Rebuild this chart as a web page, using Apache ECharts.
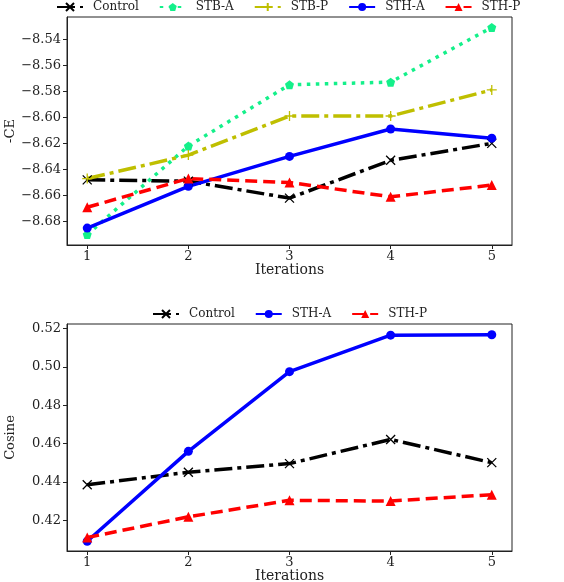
<!DOCTYPE html>
<html>
<head>
<meta charset="utf-8">
<script src="https://cdn.jsdelivr.net/npm/echarts@6/dist/echarts.min.js"></script>
<style>
  html, body { margin: 0; padding: 0; background: #fff; }
  #main { width: 564px; height: 582px; }
</style>
</head>
<body>
<div id="main"></div>
<script>
// iterations on the x axis
const iterations = [1, 2, 3, 4, 5];

// top panel: -CE
const ceControl = [-8.648, -8.649, -8.662, -8.633, -8.620];
const ceStbA    = [-8.690, -8.622, -8.575, -8.573, -8.531];
const ceStbP    = [-8.647, -8.629, -8.599, -8.599, -8.579];
const ceSthA    = [-8.685, -8.653, -8.630, -8.609, -8.616];
const ceSthP    = [-8.669, -8.647, -8.650, -8.661, -8.652];
const ceTicks   = [-8.68, -8.66, -8.64, -8.62, -8.60, -8.58, -8.56, -8.54];

// bottom panel: Cosine
const cosControl = [0.4386, 0.4451, 0.4496, 0.4622, 0.4501];
const cosSthA    = [0.4092, 0.4560, 0.4975, 0.5165, 0.5167];
const cosSthP    = [0.4111, 0.4219, 0.4305, 0.4301, 0.4334];
const cosTicks   = [0.42, 0.44, 0.46, 0.48, 0.50, 0.52];

const chart = echarts.init(document.getElementById('main'));
const FONT = '"DejaVu Serif", serif';

const SYM_X = 'path://M0,0L10,10M10,0L0,10';
const SYM_PLUS = 'path://M5,0L5,10M0,5L10,5';
const SYM_PENT = 'path://M5,0L9.76,3.45L7.94,9.05L2.06,9.05L0.24,3.45Z';

const styles = {
  'Control': { color: '#000000', dash: [18, 5, 4, 5], symbol: SYM_X, size: 9, stroke: 1.3 },
  'STB-A':   { color: '#14f08a', dash: [3.5, 5.5], symbol: SYM_PENT, size: 9, stroke: 0 },
  'STB-P':   { color: '#bfbf00', dash: [18, 5, 4, 5], symbol: SYM_PLUS, size: 10, stroke: 1.3 },
  'STH-A':   { color: '#0000ff', dash: 'solid', symbol: 'circle', size: 9, stroke: 0 },
  'STH-P':   { color: '#ff0000', dash: [12, 6], symbol: 'triangle', size: 10, stroke: 0 }
};

function pairs(vals) {
  return iterations.map((x, i) => [x, vals[i]]);
}

function makeSeries(name, vals, idx) {
  const s = styles[name];
  return {
    name: name,
    type: 'line',
    xAxisIndex: idx,
    yAxisIndex: idx,
    data: pairs(vals),
    symbol: s.symbol,
    symbolSize: s.size,
    showAllSymbol: true,
    lineStyle: { color: s.color, width: 3.5, type: s.dash },
    itemStyle: { color: s.color, borderColor: s.color, borderWidth: s.stroke },
    emphasis: { disabled: true },
    animation: false
  };
}

function xAxisCfg(gridIndex) {
  return {
    type: 'value',
    gridIndex: gridIndex,
    min: 0.8,
    max: 5.2,
    name: 'Iterations',
    nameLocation: 'middle',
    nameGap: 18,
    nameMoveOverlap: false,
    nameTextStyle: { fontFamily: FONT, fontSize: 14, color: '#222' },
    axisLine: { show: true, onZero: false, lineStyle: { color: '#222', width: 1 } },
    axisTick: { show: true, length: 4, lineStyle: { color: '#222' }, customValues: iterations },
    axisLabel: { fontFamily: FONT, fontSize: 13, color: '#222', margin: 5, customValues: iterations },
    splitLine: { show: false }
  };
}

function yAxisCfg(gridIndex, name, min, max, ticks) {
  return {
    type: 'value',
    gridIndex: gridIndex,
    min: min,
    max: max,
    name: name,
    nameLocation: 'middle',
    nameGap: 50,
    nameRotate: 90,
    nameMoveOverlap: false,
    nameTextStyle: { fontFamily: FONT, fontSize: 13, color: '#222' },
    axisLine: { show: true, lineStyle: { color: '#222', width: 1 } },
    axisTick: { show: true, length: 4, lineStyle: { color: '#222' }, customValues: ticks },
    axisLabel: {
      fontFamily: FONT, fontSize: 13, color: '#222', margin: 6, customValues: ticks,
      formatter: v => v.toFixed(2).replace('-', '\u2212')
    },
    splitLine: { show: false }
  };
}

const option = {
  backgroundColor: '#fff',
  animation: false,
  legend: [
    {
      data: ['Control', 'STB-A', 'STB-P', 'STH-A', 'STH-P'],
      left: 56,
      top: 1,
      padding: 0,
      itemWidth: 26,
      itemHeight: 10,
      itemGap: 20,
      textStyle: { fontFamily: FONT, fontSize: 12, color: '#222', padding: [0, 0, 0, 5] }
    },
    {
      data: ['Control', 'STH-A', 'STH-P'],
      left: 152,
      top: 308,
      padding: 0,
      itemWidth: 26,
      itemHeight: 10,
      itemGap: 20,
      textStyle: { fontFamily: FONT, fontSize: 12, color: '#222', padding: [0, 0, 0, 5] }
    }
  ],
  grid: [
    { left: 67, right: 52, top: 17, height: 228, show: true, borderColor: '#222', borderWidth: 1, outerBoundsMode: 'none', containLabel: false },
    { left: 67, right: 52, top: 324, height: 227, show: true, borderColor: '#222', borderWidth: 1, outerBoundsMode: 'none', containLabel: false }
  ],
  xAxis: [xAxisCfg(0), xAxisCfg(1)],
  yAxis: [
    yAxisCfg(0, '-CE', -8.698, -8.523, ceTicks),
    yAxisCfg(1, 'Cosine', 0.4041, 0.5223, cosTicks)
  ],
  series: [
    makeSeries('Control', ceControl, 0),
    makeSeries('STB-A', ceStbA, 0),
    makeSeries('STB-P', ceStbP, 0),
    makeSeries('STH-A', ceSthA, 0),
    makeSeries('STH-P', ceSthP, 0),
    makeSeries('Control', cosControl, 1),
    makeSeries('STH-A', cosSthA, 1),
    makeSeries('STH-P', cosSthP, 1)
  ]
};

chart.setOption(option);
</script>
</body>
</html>
